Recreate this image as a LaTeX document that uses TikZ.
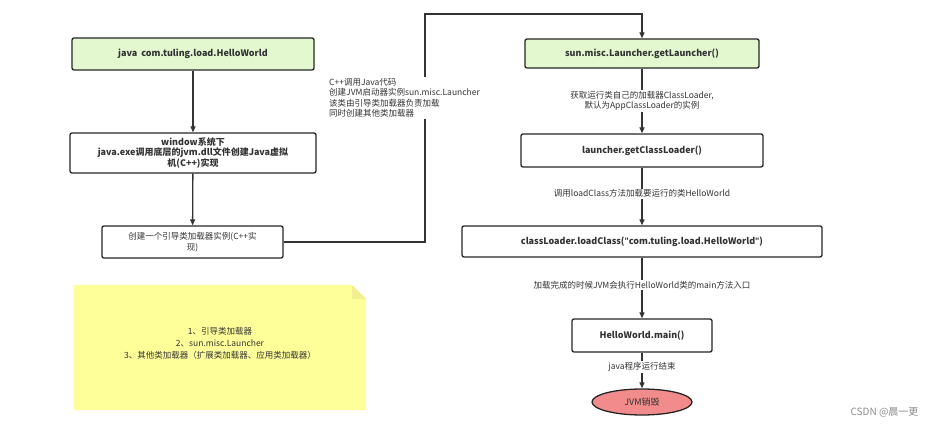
\documentclass[tikz,border=0pt]{standalone}
\usepackage{fontspec}
\setmainfont{Noto Sans CJK SC}
\newfontfamily\lat{Open Sans}
\usetikzlibrary{arrows.meta,shapes.geometric}
\definecolor{gr}{HTML}{E3F8CF}
\definecolor{pk}{HTML}{F28B8B}
\definecolor{yl}{HTML}{FFFF99}
\definecolor{tx}{HTML}{333333}
\begin{document}
\begin{tikzpicture}[x=1pt,y=-1pt,
 box/.style={draw=black!85,line width=1.3pt,rounded corners=2pt,align=center,font=\fontsize{9}{10}\selectfont\bfseries,text=tx,inner sep=1pt},
 lbl/.style={fill=white,font=\fontsize{8.5}{10.5}\selectfont,text=tx,align=center,inner sep=1pt},
 arr/.style={draw=black!80,line width=1.3pt,-{Triangle[length=6pt,width=5pt]}}]
\useasboundingbox (0,0) rectangle (937,430);
\fill[white] (0,0) rectangle (937,430);
\node[box,fill=gr,minimum width=242,minimum height=32] (a) at (193,54) {java\ \ com.tuling.load.HelloWorld};
\node[box,minimum width=246,minimum height=40,font=\fontsize{9}{9.5}\selectfont\bfseries] (b) at (193,153) {window系统下\\java.exe调用底层的jvm.dll文件创建Java虚拟\\机(C++)实现};
\node[box,font=\fontsize{8.5}{10.5}\selectfont,minimum width=181,minimum height=32] (c) at (192.5,242) {创建一个引导类加载器实例(C++实\\现)};
\node[box,fill=gr,minimum width=234,minimum height=29] (d) at (642,53.5) {sun.misc.Launcher.getLauncher()};
\node[box,minimum width=242,minimum height=33] (e) at (642,150.5) {launcher.getClassLoader()};
\node[box,minimum width=360,minimum height=31] (f) at (642,241.5) {classLoader.loadClass({\lat\bfseries\char34}com.tuling.load.HelloWorld{\lat\bfseries\char34})};
\node[box,minimum width=140,minimum height=33] (g) at (642,335.5) {HelloWorld.main()};
\node[ellipse,draw=black!85,line width=1.3pt,fill=pk,minimum width=100,minimum height=26,inner sep=0pt,font=\fontsize{9}{10}\selectfont,text=tx] (h) at (642,402) {JVM销毁};
\draw[arr] (a) -- (b);
\draw[arr] (b) -- (c);
\coordinate (t1) at (425,14);
\draw[arr] (c.east) -| (t1) -| (d.north);
\node[lbl,align=left,anchor=west] (lt) at (328,98) {C++调用Java代码\\创建JVM启动器实例sun.misc.Launcher\\该类由引导类加载器负责加载\\同时创建其他类加载器};
\draw[arr] (d) -- node[lbl] {获取运行类自己的加载器ClassLoader,\\默认为AppClassLoader的实例} (e);
\draw[arr] (e) -- node[lbl,pos=0.45] {调用loadClass方法加载要运行的类HelloWorld} (f);
\draw[arr] (f) -- node[lbl,pos=0.45] {加载完成的时候JVM会执行HelloWorld类的main方法入口} (g);
\draw[arr] (g) -- node[lbl,pos=0.4] {java程序运行结束} (h);
\fill[yl] (74,285) -- (352,285) -- (366,299) -- (366,410) -- (74,410) -- cycle;
\fill[yl!80!black!30!yl] (352,285) -- (352,299) -- (366,299) -- cycle;
\node[font=\fontsize{8.5}{12}\selectfont,text=tx,align=center] (n) at (220,343) {1、引导类加载器\\2、sun.misc.Launcher\\3、其他类加载器（扩展类加载器、应用类加载器）};
\node[font=\fontsize{10}{11}\selectfont,text=black!45,anchor=east] (w) at (922,412) {CSDN @晨一更};
\end{tikzpicture}
\end{document}
